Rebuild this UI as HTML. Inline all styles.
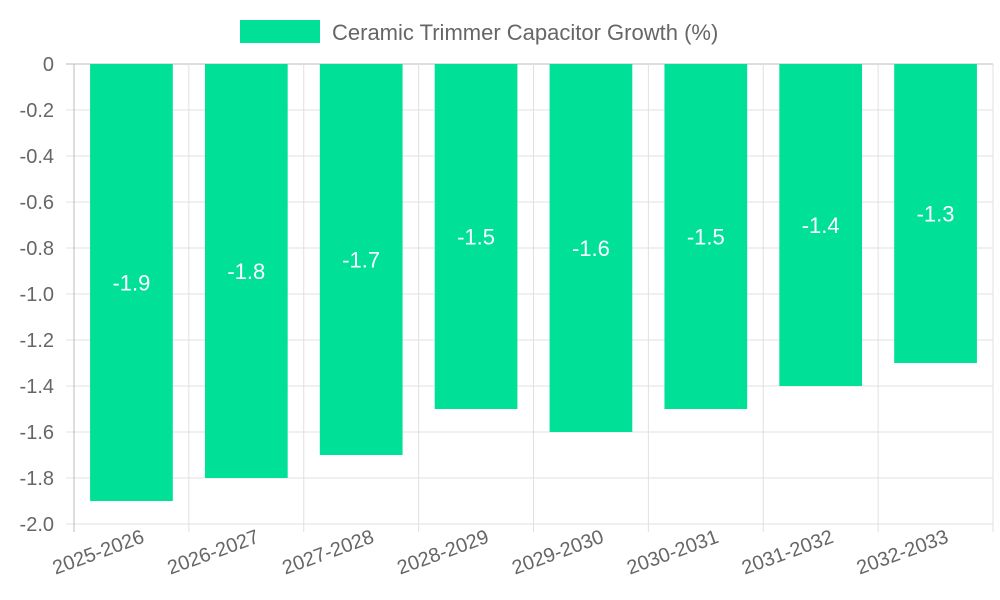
<!DOCTYPE html>
<html><head><meta charset="utf-8"><style>
body{margin:0;background:#fff;}
svg{display:block;font-family:"Liberation Sans",sans-serif;}
</style></head><body>
<svg id="chart" width="1000" height="600">
<g>
<rect x="240" y="20" width="80" height="23" fill="#00e096"/>
<text x="332" y="40" font-size="22" fill="#666">Ceramic Trimmer Capacitor Growth (%)</text>
</g>
<g id="grid"></g><g id="bars"></g><g id="labels"></g>
</svg>
<script>
const categories=["2025-2026","2026-2027","2027-2028","2028-2029","2029-2030","2030-2031","2031-2032","2032-2033"];
const values=[-1.9,-1.8,-1.7,-1.5,-1.6,-1.5,-1.4,-1.3];
const yTicks=[0,-0.2,-0.4,-0.6,-0.8,-1.0,-1.2,-1.4,-1.6,-1.8,-2.0];
const L=74,R=993,T=64,B=524,ymin=-2,ymax=0;
const ns="http://www.w3.org/2000/svg";
const y=v=>T+(ymax-v)/(ymax-ymin)*(B-T);
const bw=(R-L)/categories.length;
const x=i=>L+bw*i;
function mk(tag,attrs,parent,txt){const e=document.createElementNS(ns,tag);for(const k in attrs)e.setAttribute(k,attrs[k]);if(txt!==undefined)e.textContent=txt;document.getElementById(parent).appendChild(e);return e;}
yTicks.forEach(t=>{
  const g=mk("line",{x1:L-8,x2:R,y1:y(t),y2:y(t),stroke:t===0?"#bbb":"#e0e0e0","stroke-width":1},"grid");
  
  
  const lb=mk("text",{x:L-20,y:y(t)+7,"text-anchor":"end","font-size":20,fill:"#666"},"labels",t===0?"0":t.toFixed(1));
  
  
});
for(let i=0;i<=categories.length;i++){
  const g=mk("line",{x1:x(i),x2:x(i),y1:T,y2:B+8,stroke:i===0?"#bbb":"#e0e0e0","stroke-width":1},"grid");
  
  
}
categories.forEach((c,i)=>{
  const cx=x(i)+bw/2, w=bw*0.72;
  const r=mk("rect",{x:cx-w/2,y:y(0),width:w,height:y(values[i])-y(0),fill:"#00e096"},"bars");
  
  
  const v=mk("text",{x:cx,y:(y(0)+y(values[i]))/2+8,"text-anchor":"middle","font-size":22,fill:"#fff"},"labels",values[i].toFixed(1));
  
  
  const lx=cx+14, ly=B+18;
  const t=mk("text",{x:lx,y:ly,"text-anchor":"end","font-size":20,fill:"#666",transform:`rotate(-20 ${lx} ${ly})`},"labels",c);
  
  
});
</script>
</body></html>
